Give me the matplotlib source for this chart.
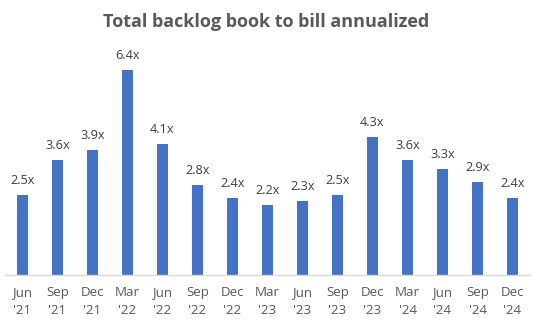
import numpy as np
import matplotlib.pyplot as plt

# Data
quarters = ["Jun\n'21", "Sep\n'21", "Dec\n'21", "Mar\n'22", "Jun\n'22", "Sep\n'22", "Dec\n'22",
            "Mar\n'23", "Jun\n'23", "Sep\n'23", "Dec\n'23", "Mar\n'24", "Jun\n'24", "Sep\n'24", "Dec\n'24"]
ratios = [2.5, 3.6, 3.9, 6.4, 4.1, 2.8, 2.4, 2.2, 2.3, 2.5, 4.3, 3.6, 3.3, 2.9, 2.4]

plt.rcParams['font.family'] = ['Open Sans', 'DejaVu Sans']

fig = plt.figure(figsize=(5.33, 3.26), dpi=100)
ax = fig.add_axes([5 / 533, 51 / 326, 525 / 533, 224 / 326])

x = np.arange(len(ratios))
ax.bar(x, ratios, width=0.31, color='#4472C4')

# value labels
for xi, v in zip(x, ratios):
    ax.text(xi, v + 0.25, f'{v:.1f}x', ha='center', va='bottom', fontsize=9.2, color='#404040')

ax.set_xlim(-0.5, len(ratios) - 0.5)
ax.set_ylim(0, 7)
ax.set_xticks(x)
ax.set_xticklabels(quarters, fontsize=9.6, color='#595959', linespacing=1.45)
ax.tick_params(axis='x', length=0, pad=8)
ax.set_yticks([])

for s in ['top', 'right', 'left']:
    ax.spines[s].set_visible(False)
ax.spines['bottom'].set_color('#D9D9D9')
ax.spines['bottom'].set_linewidth(1)

fig.text(0.5, 1 - 22 / 326, 'Total backlog book to bill annualized', ha='center', va='center',
         fontsize=13, fontweight='bold', color='#595959')

fig.savefig('out.png', dpi=100)
